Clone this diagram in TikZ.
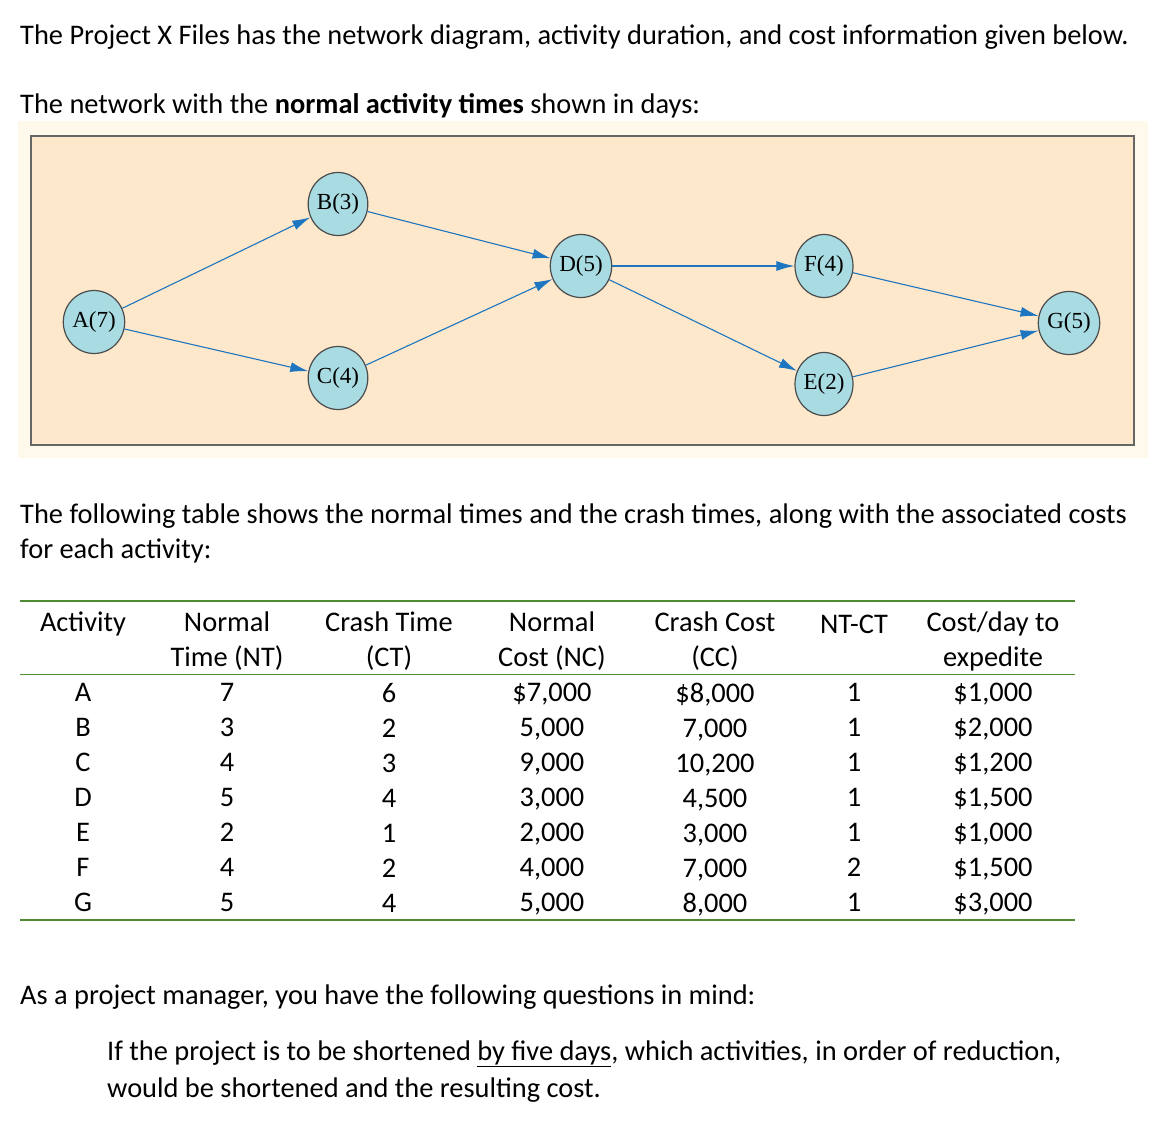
\documentclass[tikz,border=0pt]{standalone}
\usepackage{fontspec}
\setmainfont{Carlito}
\newfontfamily\serifnet{Liberation Serif}
\usetikzlibrary{arrows.meta,shapes.geometric}
\definecolor{netfill}{HTML}{FDE8CC}
\definecolor{outerfill}{HTML}{FFF9EC}
\definecolor{nodefill}{HTML}{A9DBE3}
\definecolor{edgecol}{HTML}{1E75C0}
\definecolor{rulegreen}{HTML}{4E8C34}
\begin{document}
\begin{tikzpicture}[x=1pt,y=-1pt,
  txt/.style={anchor=west,inner sep=0pt,font=\fontsize{28.4}{36}\selectfont},
  cell/.style={inner sep=0pt,font=\fontsize{28.4}{35}\selectfont,align=center},
  act/.style={ellipse,draw=black!70,line width=1.2pt,fill=nodefill,minimum width=58,minimum height=63,inner sep=0pt,font=\serifnet\fontsize{23}{24}\selectfont},
  edge/.style={draw=edgecol,line width=1.1pt,-{Latex[length=18pt,width=10pt]}}]
\useasboundingbox (0,0) rectangle (1162,1134);
\fill[white] (0,0) rectangle (1162,1134);
\node[txt] (t1) at (20,37) {The Project X Files has the network diagram, activity duration, and cost information given below.};
\node[txt] (t2) at (20,106) {The network with the \textbf{normal activity times} shown in days:};
\fill[outerfill] (18,121) rectangle (1148,458);
\draw[fill=netfill,draw=black!60,line width=1.3pt] (31,136) rectangle (1134,445);
\node[act] (A) at (94,322) {A(7)};
\node[act] (B) at (338,204) {B(3)};
\node[act] (C) at (338,378) {C(4)};
\node[act] (D) at (581,266) {D(5)};
\node[act] (F) at (824,266) {F(4)};
\node[act] (E) at (824,384) {E(2)};
\node[act] (G) at (1069,323) {G(5)};
\draw[edge] (A) -- (B);
\draw[edge] (A) -- (C);
\draw[edge] (B) -- (D);
\draw[edge] (C) -- (D);
\draw[edge] (D) -- (F);
\draw[edge] (D) -- (E);
\draw[edge] (F) -- (G);
\draw[edge] (E) -- (G);
\node[txt] (t3) at (20,516) {The following table shows the normal times and the crash times, along with the associated costs};
\node[txt] (t4) at (20,551) {for each activity:};
% table rules
\coordinate (L1) at (20,601); \coordinate (R1) at (1075,601);
\coordinate (L2) at (20,674); \coordinate (R2) at (1075,674);
\coordinate (L3) at (20,920); \coordinate (R3) at (1075,920);
\draw[rulegreen,line width=2.2pt] (L1) -- (R1);
\draw[rulegreen,line width=1pt] (L2) -- (R2);
\draw[rulegreen,line width=2.2pt] (L3) -- (R3);
\node[cell] (h1) at (83,624) {Activity};
\node[cell] (h2) at (227,641.5) {Normal\\Time (NT)};
\node[cell] (h3) at (389,641.5) {Crash Time\\(CT)};
\node[cell] (h4) at (552,641.5) {Normal\\Cost (NC)};
\node[cell] (h5) at (715,641.5) {Crash Cost\\(CC)};
\node[cell] (h6) at (854,624) {NT-CT};
\node[cell] (h7) at (993,641.5) {Cost/day to\\expedite};
\node[cell,anchor=north] (c1) at (83,683) {A\\B\\C\\D\\E\\F\\G};
\node[cell,anchor=north] (c2) at (227,683) {7\\3\\4\\5\\2\\4\\5};
\node[cell,anchor=north] (c3) at (389,683) {6\\2\\3\\4\\1\\2\\4};
\node[cell,anchor=north] (c4) at (552,683) {\$7,000\\5,000\\9,000\\3,000\\2,000\\4,000\\5,000};
\node[cell,anchor=north] (c5) at (715,683) {\$8,000\\7,000\\10,200\\4,500\\3,000\\7,000\\8,000};
\node[cell,anchor=north] (c6) at (854,683) {1\\1\\1\\1\\1\\2\\1};
\node[cell,anchor=north] (c7) at (993,683) {\$1,000\\\$2,000\\\$1,200\\\$1,500\\\$1,000\\\$1,500\\\$3,000};
\node[txt] (t5) at (20,997) {As a project manager, you have the following questions in mind:};
\node[txt] (t6) at (107,1054) {If the project is to be shortened \underline{by five days}, which activities, in order of reduction,};
\node[txt] (t7) at (107,1090) {would be shortened and the resulting cost.};
\end{tikzpicture}
\end{document}
